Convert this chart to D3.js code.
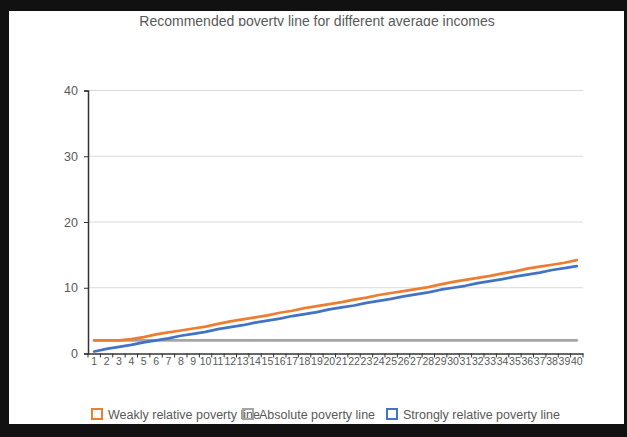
<!DOCTYPE html>
<html>
<head>
<meta charset="utf-8">
<script src="https://cdn.jsdelivr.net/npm/d3@7"></script>
<style>
  body { margin: 0; background: #111; }
  svg { display: block; font-family: "Liberation Sans", Arial, sans-serif; }
</style>
</head>
<body>
<div id="chart"></div>
<script>
// Average income categories 1..40
const incomes = d3.range(1, 41).map(String);
const weakly = [2.0, 2.0, 2.0, 2.2, 2.5, 2.9, 3.2, 3.5, 3.8, 4.1,
  4.5, 4.9, 5.2, 5.5, 5.8, 6.2, 6.5, 6.9, 7.2, 7.5,
  7.8, 8.2, 8.5, 8.9, 9.2, 9.5, 9.8, 10.1, 10.5, 10.9,
  11.2, 11.5, 11.8, 12.2, 12.5, 12.9, 13.2, 13.5, 13.8, 14.2];
const absolute = [2, 2, 2, 2, 2, 2, 2, 2, 2, 2,
  2, 2, 2, 2, 2, 2, 2, 2, 2, 2,
  2, 2, 2, 2, 2, 2, 2, 2, 2, 2,
  2, 2, 2, 2, 2, 2, 2, 2, 2, 2];
const strongly = [0.3, 0.7, 1.0, 1.3, 1.7, 2.0, 2.3, 2.7, 3.0, 3.3,
  3.7, 4.0, 4.3, 4.7, 5.0, 5.3, 5.7, 6.0, 6.3, 6.7,
  7.0, 7.3, 7.7, 8.0, 8.3, 8.7, 9.0, 9.3, 9.7, 10.0,
  10.3, 10.7, 11.0, 11.3, 11.7, 12.0, 12.3, 12.7, 13.0, 13.3];
const yTicks = [0, 10, 20, 30, 40];

const series = [
  { name: "Weakly relative poverty line", color: "#ED7D31", values: weakly, lx: 91 },
  { name: "Absolute poverty line", color: "#A5A5A5", values: absolute, lx: 242 },
  { name: "Strongly relative poverty line", color: "#4472C4", values: strongly, lx: 386 }
];

const width = 627, height = 437;
const svg = d3.select("#chart").append("svg")
  .attr("width", width)
  .attr("height", height);

svg.append("rect")
  .attr("x", 9).attr("y", 11)
  .attr("width", 615).attr("height", 413)
  .attr("fill", "#fff");

// title is cut off just under the baseline in the original
svg.append("clipPath").attr("id", "titleclip")
  .append("rect").attr("x", 9).attr("y", 11).attr("width", 615).attr("height", 15);
svg.append("text")
  .attr("clip-path", "url(#titleclip)")
  .attr("x", 317).attr("y", 25.5)
  .attr("text-anchor", "middle")
  .attr("font-size", 14)
  .attr("fill", "#595959")
  .text("Recommended poverty line for different average incomes");

const x = d3.scaleBand().domain(incomes).range([88, 583]);
const y = d3.scaleLinear().domain([0, 40]).range([353.5, 90.5]);

// gridlines
svg.append("g")
  .selectAll("line")
  .data(yTicks.slice(1))
  .enter()
  .append("line")
  .attr("x1", 88).attr("x2", 583)
  .attr("y1", d => y(d)).attr("y2", d => y(d))
  .attr("stroke", "#d9d9d9")
  .attr("stroke-width", 1);

// y axis
const yAxis = svg.append("g")
  .attr("transform", "translate(88,0)")
  .call(d3.axisLeft(y).tickValues(yTicks).tickSize(4).tickPadding(6));
yAxis.select(".domain").attr("stroke", "#333").attr("stroke-width", 1.5);
yAxis.selectAll(".tick line").attr("stroke", "#333");
yAxis.selectAll("text")
  .attr("font-size", 12.5)
  .attr("fill", "#595959")
  .attr("font-family", "Liberation Sans, Arial, sans-serif");

// lines
const line = d3.line()
  .x((d, i) => x(incomes[i]) + x.bandwidth() / 2)
  .y(d => y(d));

const drawOrder = [series[1], series[0], series[2]];
svg.append("g")
  .selectAll("path")
  .data(drawOrder)
  .enter()
  .append("path")
  .attr("d", d => line(d.values))
  .attr("fill", "none")
  .attr("stroke", d => d.color)
  .attr("stroke-width", 2.75)
  .attr("stroke-linejoin", "round")
  .attr("stroke-linecap", "round");

// x axis
const xAxis = svg.append("g")
  .attr("transform", "translate(0,353.5)")
  .call(d3.axisBottom(x).tickSize(0).tickPadding(4.5));
xAxis.select(".domain").attr("stroke", "#333").attr("stroke-width", 1.5);
xAxis.selectAll("text")
  .attr("font-size", 10.5)
  .attr("fill", "#595959")
  .attr("font-family", "Liberation Sans, Arial, sans-serif");
// tick marks at the band boundaries
svg.append("g")
  .selectAll("line")
  .data(incomes.concat(["end"]))
  .enter()
  .append("line")
  .attr("x1", d => d === "end" ? x.range()[1] : x(d))
  .attr("x2", d => d === "end" ? x.range()[1] : x(d))
  .attr("y1", 353.5).attr("y2", 357.5)
  .attr("stroke", "#333")
  .attr("stroke-width", 1);

// legend
const legend = svg.append("g")
  .selectAll("g")
  .data(series)
  .enter()
  .append("g")
  .attr("transform", d => `translate(${d.lx},408)`);
legend.append("text")
  .attr("x", 17).attr("y", 10.5)
  .attr("font-size", 12.5)
  .attr("fill", "#595959")
  .text(d => d.name);
legend.append("rect")
  .attr("x", 1).attr("y", 1)
  .attr("width", 10).attr("height", 10)
  .attr("fill", "none")
  .attr("stroke", d => d.color)
  .attr("stroke-width", 2);
</script>
</body>
</html>
